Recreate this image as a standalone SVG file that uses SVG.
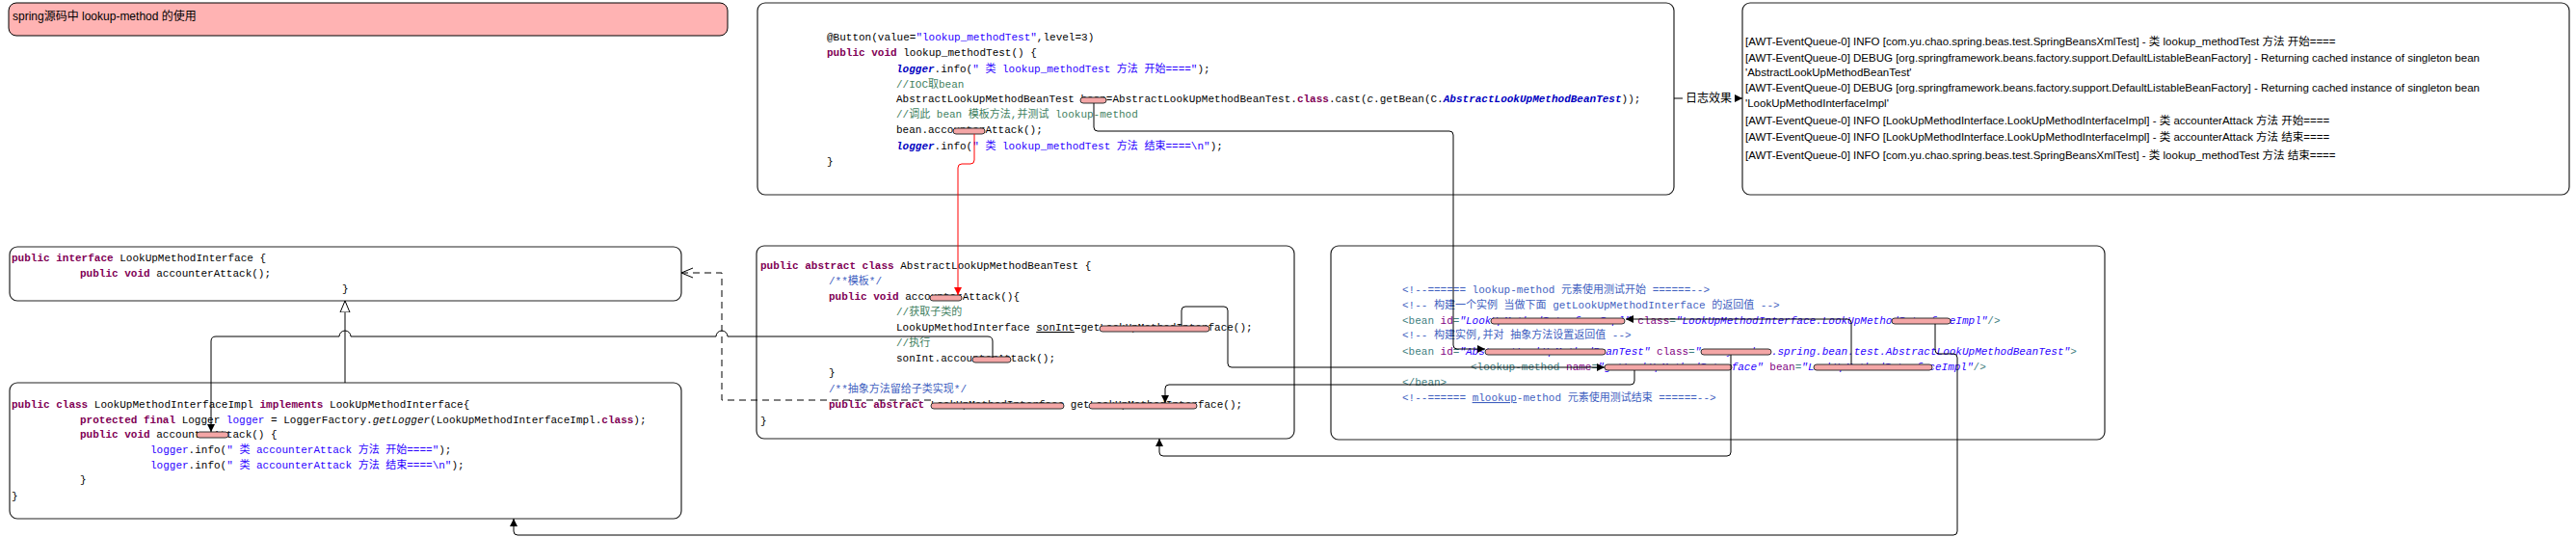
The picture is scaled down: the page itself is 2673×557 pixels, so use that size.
<svg xmlns="http://www.w3.org/2000/svg" width="2673" height="557" viewBox="0 0 2673 557">
<style>
.box{fill:#fff;stroke:#222;stroke-width:1.2}
.c{font-family:"Liberation Mono","Noto Sans CJK SC",monospace;font-size:11px;fill:#000}
.s{font-family:"Liberation Sans","Noto Sans CJK SC",sans-serif;font-size:11.5px;fill:#000}
.k{fill:#7F0055;font-weight:bold}
.str{fill:#2A00FF}
.cm{fill:#3F7F5F}
.jd{fill:#3F5FBF}
.lg{fill:#0000C0;font-weight:bold;font-style:italic}
.tg{fill:#3F7F7F}
.at{fill:#7F007F}
.av{fill:#2A00FF;font-style:italic}
.hl{fill:#F4A6A6;stroke:#333;stroke-width:1}
.ln{fill:none;stroke:#000;stroke-width:1}
</style>
<defs>
<marker id="ar" viewBox="0 0 10 10" refX="10" refY="5" markerWidth="8" markerHeight="8" orient="auto" markerUnits="userSpaceOnUse"><path d="M0,0L10,5L0,10z" fill="#000"/></marker>
<marker id="arr" viewBox="0 0 10 10" refX="10" refY="5" markerWidth="8" markerHeight="8" orient="auto" markerUnits="userSpaceOnUse"><path d="M0,0L10,5L0,10z" fill="#f00"/></marker>
<marker id="tri" viewBox="0 0 12 12" refX="12" refY="6" markerWidth="12" markerHeight="12" orient="auto" markerUnits="userSpaceOnUse"><path d="M0,1L12,6L0,11z" fill="#fff" stroke="#000"/></marker>
<marker id="open" viewBox="0 0 12 12" refX="12" refY="6" markerWidth="12" markerHeight="12" orient="auto" markerUnits="userSpaceOnUse"><path d="M0,1L12,6L0,11" fill="none" stroke="#000"/></marker>
</defs>

<g id="title">
<rect x="9" y="3" width="746" height="34" rx="8" fill="#FFB3B3" stroke="#000"/>
<text class="s" x="13" y="21" style="font-size:12px">spring源码中 lookup-method 的使用</text>
</g>

<g id="test-method">
<rect class="box" x="786" y="3" width="951" height="199" rx="8"/>
<text class="c" x="858" y="42" fill="#646464">@Button(value=<tspan class="str">"lookup_methodTest"</tspan>,level=3)</text>
<text class="c" x="858" y="58"><tspan class="k">public void</tspan> lookup_methodTest() {</text>
<text class="c" x="930" y="75"><tspan class="lg">logger</tspan>.info(<tspan class="str">" 类 lookup_methodTest 方法 开始===="</tspan>);</text>
<text class="c cm" x="930" y="91">//IOC取bean</text>
<text class="c" x="930" y="106">AbstractLookUpMethodBeanTest bean=AbstractLookUpMethodBeanTest.<tspan class="k">class</tspan>.cast(<tspan font-style="italic">c</tspan>.getBean(C.<tspan class="lg">AbstractLookUpMethodBeanTest</tspan>));</text>
<text class="c cm" x="930" y="122">//调此 bean 模板方法,并测试 lookup-method</text>
<text class="c" x="930" y="138">bean.accounterAttack();</text>
<text class="c" x="930" y="155"><tspan class="lg">logger</tspan>.info(<tspan class="str">" 类 lookup_methodTest 方法 结束====\n"</tspan>);</text>
<text class="c" x="858" y="171">}</text>
<rect class="hl" x="1121" y="101" width="27" height="6" rx="3"/>
<rect class="hl" x="989" y="133" width="33" height="6" rx="3"/>
</g>

<g id="log">
<rect class="box" x="1808" y="3" width="858" height="199" rx="8"/>
<text class="s" x="1811" y="47">[AWT-EventQueue-0]  INFO  [com.yu.chao.spring.beas.test.SpringBeansXmlTest] -  类 lookup_methodTest 方法 开始====</text>
<text class="s" x="1811" y="64">[AWT-EventQueue-0] DEBUG [org.springframework.beans.factory.support.DefaultListableBeanFactory] - Returning cached instance of singleton bean</text>
<text class="s" x="1811" y="79">'AbstractLookUpMethodBeanTest'</text>
<text class="s" x="1811" y="95">[AWT-EventQueue-0] DEBUG [org.springframework.beans.factory.support.DefaultListableBeanFactory] - Returning cached instance of singleton bean</text>
<text class="s" x="1811" y="111">'LookUpMethodInterfaceImpl'</text>
<text class="s" x="1811" y="129">[AWT-EventQueue-0] INFO  [LookUpMethodInterface.LookUpMethodInterfaceImpl] - 类 accounterAttack 方法 开始====</text>
<text class="s" x="1811" y="146">[AWT-EventQueue-0] INFO  [LookUpMethodInterface.LookUpMethodInterfaceImpl] - 类 accounterAttack 方法 结束====</text>
<text class="s" x="1811" y="165">[AWT-EventQueue-0] INFO  [com.yu.chao.spring.beas.test.SpringBeansXmlTest] - 类 lookup_methodTest 方法 结束====</text>
</g>

<g id="interface">
<rect class="box" x="10" y="256" width="697" height="56" rx="8"/>
<text class="c" x="12" y="271"><tspan class="k">public interface</tspan> LookUpMethodInterface {</text>
<text class="c" x="83" y="287"><tspan class="k">public void</tspan> accounterAttack();</text>
<text class="c" x="355" y="303">}</text>
</g>

<g id="impl">
<rect class="box" x="10" y="397" width="697" height="141" rx="8"/>
<text class="c" x="12" y="423"><tspan class="k">public class</tspan> LookUpMethodInterfaceImpl <tspan class="k">implements</tspan> LookUpMethodInterface{</text>
<text class="c" x="83" y="439"><tspan class="k">protected final</tspan> Logger <tspan class="str">logger</tspan> = LoggerFactory.<tspan font-style="italic">getLogger</tspan>(LookUpMethodInterfaceImpl.<tspan class="k">class</tspan>);</text>
<text class="c" x="83" y="454"><tspan class="k">public void</tspan> accounterAttack() {</text>
<text class="c" x="156" y="470"><tspan class="str">logger</tspan>.info(<tspan class="str">" 类 accounterAttack 方法 开始===="</tspan>);</text>
<text class="c" x="156" y="486"><tspan class="str">logger</tspan>.info(<tspan class="str">" 类 accounterAttack 方法 结束====\n"</tspan>);</text>
<text class="c" x="83" y="501">}</text>
<text class="c" x="12" y="518">}</text>
<rect class="hl" x="204" y="448" width="33" height="6" rx="3"/>
</g>

<g id="abstract">
<rect class="box" x="785" y="255" width="558" height="200" rx="8"/>
<text class="c" x="789" y="279"><tspan class="k">public abstract class</tspan> AbstractLookUpMethodBeanTest {</text>
<text class="c jd" x="860" y="295">/**模板*/</text>
<text class="c" x="860" y="311"><tspan class="k">public void</tspan> accounterAttack(){</text>
<text class="c cm" x="930" y="327">//获取子类的</text>
<text class="c" x="930" y="343">LookUpMethodInterface <tspan text-decoration="underline">sonInt</tspan>=getLookUpMethodInterface();</text>
<text class="c cm" x="930" y="359">//执行</text>
<text class="c" x="930" y="375">sonInt.accounterAttack();</text>
<text class="c" x="860" y="390">}</text>
<text class="c jd" x="860" y="407">/**抽象方法留给子类实现*/</text>
<text class="c" x="860" y="423"><tspan class="k">public abstract</tspan> LookUpMethodInterface getLookUpMethodInterface();</text>
<text class="c" x="789" y="440">}</text>
<rect class="hl" x="965" y="306" width="33" height="6" rx="3"/>
<rect class="hl" x="1141" y="338" width="114" height="6" rx="3"/>
<rect class="hl" x="1009" y="370" width="40" height="6" rx="3"/>
<rect class="hl" x="966" y="418" width="138" height="6" rx="3"/>
<rect class="hl" x="1130" y="418" width="112" height="6" rx="3"/>
</g>

<g id="xml">
<rect class="box" x="1381" y="255" width="803" height="201" rx="8"/>
<text class="c jd" x="1455" y="304">&lt;!--====== lookup-method 元素使用测试开始 ======--&gt;</text>
<text class="c jd" x="1455" y="320">&lt;!-- 构建一个实例 当做下面 getLookUpMethodInterface 的返回值  --&gt;</text>
<text class="c tg" x="1455" y="336">&lt;bean <tspan class="at">id</tspan>=<tspan class="av">"LookUpMethodInterfaceImpl"</tspan> <tspan class="at">class</tspan>=<tspan class="av">"LookUpMethodInterface.LookUpMethodInterfaceImpl"</tspan>/&gt;</text>
<text class="c jd" x="1455" y="351">&lt;!-- 构建实例,并对 抽象方法设置返回值  --&gt;</text>
<text class="c tg" x="1455" y="368">&lt;bean <tspan class="at">id</tspan>=<tspan class="av">"AbstractLookUpMethodBeanTest"</tspan> <tspan class="at">class</tspan>=<tspan class="av">"com.yu.chao.spring.bean.test.AbstractLookUpMethodBeanTest"</tspan>&gt;</text>
<text class="c tg" x="1526" y="384">&lt;lookup-method <tspan class="at">name</tspan>=<tspan class="av">"getLookUpMethodInterface"</tspan>  <tspan class="at">bean</tspan>=<tspan class="av">"LookUpMethodInterfaceImpl"</tspan>/&gt;</text>
<text class="c tg" x="1455" y="400">&lt;/bean&gt;</text>
<text class="c jd" x="1455" y="416">&lt;!--====== <tspan text-decoration="underline">mlookup</tspan>-method 元素使用测试结束 ======--&gt;</text>
<rect class="hl" x="1547" y="330" width="139" height="6" rx="3"/>
<rect class="hl" x="1963" y="330" width="61" height="6" rx="3"/>
<rect class="hl" x="1541" y="362" width="125" height="6" rx="3"/>
<rect class="hl" x="1765" y="362" width="73" height="6" rx="3"/>
<rect class="hl" x="1665" y="378" width="132" height="6" rx="3"/>
<rect class="hl" x="1882" y="378" width="123" height="6" rx="3"/>
</g>

<g id="connectors">
<path class="ln" d="M358,397V312" marker-end="url(#tri)"/>
<path class="ln" d="M966,415H749V283H707" stroke-dasharray="7,5" marker-end="url(#open)"/>
<path class="ln" d="M1030,371V354Q1030,349 1025,349H755A6,6 0 0 0 743,349H364A6,6 0 0 0 352,349H224Q219,349 219,354V448" marker-end="url(#ar)"/>
<path d="M1011,139V166Q1011,170 1007,170H998Q994,170 994,174V306" fill="none" stroke="#f00" marker-end="url(#arr)"/>
<path class="ln" d="M1135,107V132Q1135,136 1139,136H1504Q1508,136 1508,140V358Q1508,362 1512,362H1541" marker-end="url(#ar)"/>
<path class="ln" d="M1226,338V322Q1226,318 1230,318H1270Q1274,318 1274,322V377Q1274,381 1278,381H1665" marker-end="url(#ar)"/>
<path class="ln" d="M1696,384V395Q1696,399 1692,399H1213Q1209,399 1209,403V418" marker-end="url(#ar)"/>
<path class="ln" stroke="#666" stroke-width="1.5" d="M1921,378V335Q1921,331 1917,331H1687" marker-end="url(#ar)"/>
<path class="ln" stroke="#666" stroke-width="1.5" d="M2008,336V363Q2008,367 2012,367H2027Q2031,367 2031,371V551Q2031,555 2027,555H537Q533,555 533,551V538" marker-end="url(#ar)"/>
<path class="ln" d="M1796,368V469Q1796,473 1792,473H1207Q1203,473 1203,469V455" marker-end="url(#ar)"/>
<path class="ln" d="M1737,102H1746M1800,102H1808" marker-end="url(#ar)"/>
<text class="s" x="1773" y="106" text-anchor="middle" style="font-size:12px">日志效果</text>
</g>
</svg>
